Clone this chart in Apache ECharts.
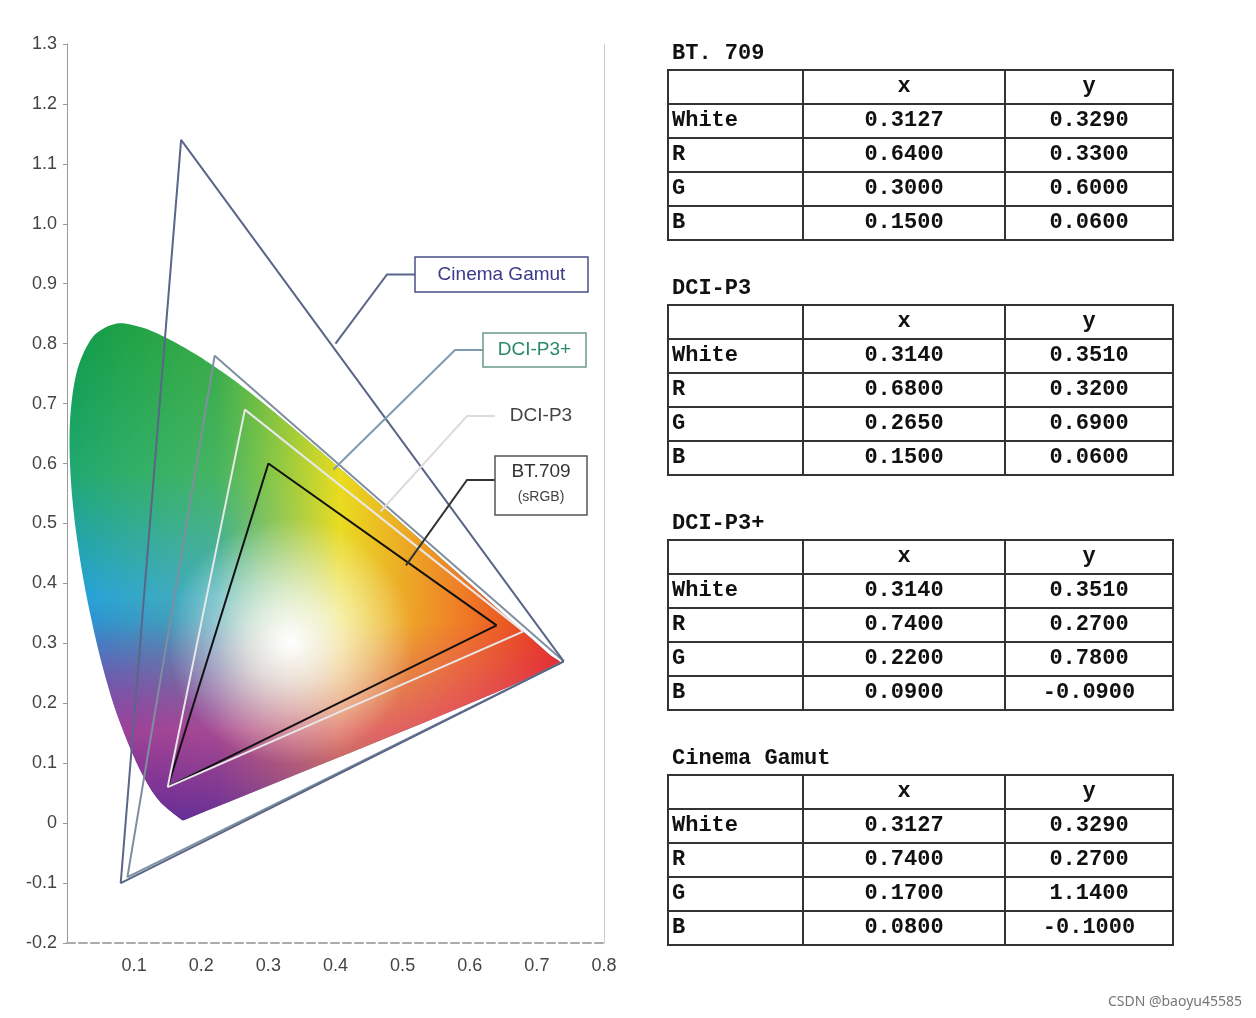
<!DOCTYPE html>
<html>
<head>
<meta charset="utf-8">
<script src="https://cdn.jsdelivr.net/npm/echarts@6/dist/echarts.min.js"></script>
<style>
  body { margin: 0; background: #fff; }
  #chart { position: absolute; left: 0; top: 0; width: 1256px; height: 1018px; }
  .tbl { position: absolute; left: 667px; }
  .tbl .ttl { font: bold 22px "Liberation Mono", "DejaVu Sans Mono", monospace; color: #111; height: 28px; padding-left: 5px; }
  table { border-collapse: collapse; font: bold 22px "Liberation Mono", "DejaVu Sans Mono", monospace; color: #111; }
  td { border: 2px solid #333; height: 32px; padding: 0; text-align: center; line-height: 32px; }
  td.c0 { width: 130px; text-align: left; padding-left: 3px; }
  td.c1 { width: 200px; }
  td.c2 { width: 166px; }
  #wm { position: absolute; right: 14px; bottom: 8px; font: 14px "Noto Sans", sans-serif; color: #777; }
</style>
</head>
<body>
<div id="chart"></div>
<div id="tables"></div>
<div id="wm">CSDN @baoyu45585</div>
<script>
// CIE 1931 spectral locus (x, y)
const locus = [
  [0.1741, 0.0050], [0.1714, 0.0051], [0.1644, 0.0109], [0.1566, 0.0177],
  [0.1440, 0.0297], [0.1355, 0.0399], [0.1241, 0.0578], [0.1096, 0.0868],
  [0.0913, 0.1327], [0.0687, 0.2007], [0.0454, 0.2950], [0.0235, 0.4127],
  [0.0082, 0.5384], [0.0039, 0.6548], [0.0139, 0.7502], [0.0389, 0.8120],
  [0.0743, 0.8338], [0.1142, 0.8262], [0.1547, 0.8059], [0.1929, 0.7816],
  [0.2296, 0.7543], [0.2658, 0.7243], [0.3016, 0.6923], [0.3373, 0.6589],
  [0.3731, 0.6245], [0.4441, 0.5547], [0.5125, 0.4866], [0.5752, 0.4242],
  [0.6270, 0.3725], [0.6915, 0.3083], [0.7190, 0.2809], [0.7347, 0.2653]
];

const gamutNames = ['BT. 709', 'DCI-P3', 'DCI-P3+', 'Cinema Gamut'];
const rowNames = ['White', 'R', 'G', 'B'];
const bt709 = [['0.3127', '0.3290'], ['0.6400', '0.3300'], ['0.3000', '0.6000'], ['0.1500', '0.0600']];
const dciP3 = [['0.3140', '0.3510'], ['0.6800', '0.3200'], ['0.2650', '0.6900'], ['0.1500', '0.0600']];
const dciP3Plus = [['0.3140', '0.3510'], ['0.7400', '0.2700'], ['0.2200', '0.7800'], ['0.0900', '-0.0900']];
const cinema = [['0.3127', '0.3290'], ['0.7400', '0.2700'], ['0.1700', '1.1400'], ['0.0800', '-0.1000']];
const gamutTables = [bt709, dciP3, dciP3Plus, cinema];
const triColors = ['#111111', '#e8e8e8', '#7f8ea0', '#5a6688'];

// tables
const tablesDiv = document.getElementById('tables');
gamutTables.forEach((rows, i) => {
  let html = '<div class="ttl">' + gamutNames[i] + '</div><table>';
  html += '<tr><td class="c0"></td><td class="c1">x</td><td class="c2">y</td></tr>';
  rows.forEach((r, j) => {
    html += '<tr><td class="c0">' + rowNames[j] + '</td><td class="c1">' + r[0] + '</td><td class="c2">' + r[1] + '</td></tr>';
  });
  html += '</table>';
  const d = document.createElement('div');
  d.className = 'tbl';
  d.style.top = (41 + i * 235) + 'px';
  d.innerHTML = html;
  tablesDiv.appendChild(d);
});

function triangle(rows) {
  const pts = rows.slice(1).map(r => [parseFloat(r[0]), parseFloat(r[1])]);
  pts.push(pts[0]);
  return pts;
}

const chart = echarts.init(document.getElementById('chart'));
const axisLbl = { color: '#444', fontSize: 18, fontFamily: 'Liberation Sans' };

chart.setOption({
  animation: false,
  grid: { left: 67, top: 44, right: 652, bottom: 75 },
  xAxis: {
    type: 'value', min: 0, max: 0.8, interval: 0.1,
    axisLine: { onZero: false, lineStyle: { color: '#aaa', type: 'dashed', width: 2 } },
    axisTick: { show: false }, splitLine: { show: false },
    axisLabel: Object.assign({ margin: 14, formatter: v => v === 0 ? '' : v.toFixed(1) }, axisLbl)
  },
  yAxis: [{
    type: 'value', min: -0.2, max: 1.3, interval: 0.1,
    axisLine: { show: true, lineStyle: { color: '#999' } },
    axisTick: { show: true, length: 4, lineStyle: { color: '#999' } },
    splitLine: { show: false },
    axisLabel: Object.assign({ margin: 10, formatter: v => v === 0 ? '0' : v.toFixed(1) }, axisLbl)
  }, {
    type: 'value', min: -0.2, max: 1.3, position: 'right',
    axisLine: { show: true, lineStyle: { color: '#ccc' } },
    axisTick: { show: false }, axisLabel: { show: false }, splitLine: { show: false }
  }],
  series: [
    {
      type: 'custom',
      data: [0],
      renderItem: (params, api) => {
        const pts = locus.map(p => api.coord(p));
        const grad = (x, y, x2, y2, stops) => new echarts.graphic.LinearGradient(x, y, x2, y2, stops);
        return {
          type: 'group',
          children: [
            { type: 'polygon', shape: { points: pts, smooth: 0.3 }, style: { fill: grad(0, 0, 0, 1, [
              { offset: 0, color: '#0e9a4a' }, { offset: 0.3, color: '#1fa870' },
              { offset: 0.55, color: '#22a0dc' }, { offset: 0.78, color: '#3a56c0' }, { offset: 1, color: '#3a2090' }]) } },
            { type: 'polygon', shape: { points: pts, smooth: 0.3 }, style: { fill: grad(0, 0, 1, 0, [
              { offset: 0, color: 'rgba(255,255,0,0)' }, { offset: 0.3, color: 'rgba(220,230,40,0.2)' },
              { offset: 0.55, color: 'rgba(255,225,20,0.9)' }, { offset: 0.78, color: 'rgba(250,130,30,0.95)' },
              { offset: 1, color: 'rgba(232,45,30,1)' }]) } },
            { type: 'polygon', shape: { points: pts, smooth: 0.3 }, style: { fill: grad(0, 0, 0, 1, [
              { offset: 0, color: 'rgba(210,40,140,0)' }, { offset: 0.6, color: 'rgba(210,40,140,0)' },
              { offset: 0.82, color: 'rgba(215,50,140,0.6)' }, { offset: 1, color: 'rgba(110,40,160,0.7)' }]) } },
            { type: 'polygon', shape: { points: pts, smooth: 0.3 }, style: { fill: new echarts.graphic.RadialGradient(0.45, 0.64, 0.25, [
              { offset: 0, color: 'rgba(255,255,255,1)' }, { offset: 0.35, color: 'rgba(255,255,255,0.7)' },
              { offset: 1, color: 'rgba(255,255,255,0)' }]) } }
          ]
        };
      }
    },
    ...gamutTables.map((rows, i) => ({
      type: 'line', data: triangle(rows), symbol: 'none', z: 5 + i,
      lineStyle: { color: triColors[i], width: 2 }
    }))
  ]
});

// callout labels with leader lines
const callouts = [
  { text: 'Cinema Gamut', color: '#3a3a8a', border: '#4a5088', box: [415, 257, 173, 35], at: [0.40, 0.80], line: '#5a6688' },
  { text: 'DCI-P3+', color: '#2a8a6a', border: '#6a9a88', box: [483, 333, 103, 34], at: [0.397, 0.59], line: '#7f9ab0' },
  { text: 'DCI-P3', color: '#444', border: null, box: [495, 401, 92, 30], at: [0.467, 0.52], line: '#dcdcdc' },
  { text: 'BT.709', sub: '(sRGB)', color: '#333', border: '#555', box: [495, 456, 92, 59], at: [0.505, 0.43], line: '#333' }
];
const g = [];
callouts.forEach(c => {
  const [bx, by, bw, bh] = c.box;
  const p = chart.convertToPixel({ xAxisIndex: 0, yAxisIndex: 0 }, c.at);
  const ly = by + (c.sub ? 24 : bh / 2);
  g.push({ type: 'polyline', z: 20, shape: { points: [[bx, ly], [bx - 28, ly], p] }, style: { stroke: c.line, lineWidth: 2, fill: null } });
  if (c.border) g.push({ type: 'rect', z: 20, shape: { x: bx, y: by, width: bw, height: bh }, style: { fill: '#fff', stroke: c.border, lineWidth: 1.5 } });
  g.push({ type: 'text', z: 21, x: bx + bw / 2, y: by + (c.sub ? 16 : bh / 2), style: { text: c.text, fill: c.color, font: '19px "Liberation Sans"', align: 'center', verticalAlign: 'middle' } });
  if (c.sub) g.push({ type: 'text', z: 21, x: bx + bw / 2, y: by + 41, style: { text: c.sub, fill: '#444', font: '14px "Liberation Sans"', align: 'center', verticalAlign: 'middle' } });
});
chart.setOption({ graphic: g });
</script>
</body>
</html>
